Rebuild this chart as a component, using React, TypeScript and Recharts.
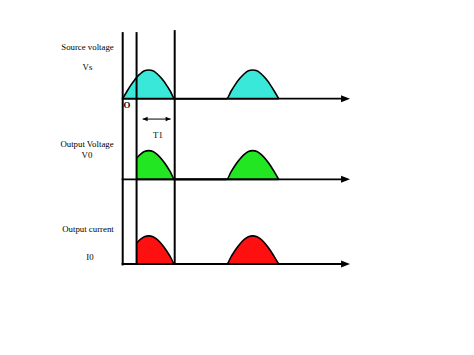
import React from 'react';
import { ComposedChart, Area, XAxis, YAxis, ReferenceLine } from 'recharts';

// phase angle (degrees) of each sample
const time = [0, 15, 30, 45, 48, 60, 75, 90, 105, 120, 135, 150, 165, 180, 360, 375, 390, 405, 420, 435, 450, 465, 480, 495, 510, 525, 540];

// normalised heights
const sourceVs = [0, 0.26, 0.5, 0.7, 0.74, 0.86, 0.97, 1, 0.97, 0.86, 0.7, 0.5, 0.26, 0, 0, 0.26, 0.5, 0.7, 0.86, 0.97, 1, 0.97, 0.86, 0.7, 0.5, 0.26, 0];
const outputV0 = [null, null, null, null, 0.74, 0.86, 0.97, 1, 0.97, 0.86, 0.7, 0.5, 0.26, 0, 0, 0.26, 0.5, 0.7, 0.86, 0.97, 1, 0.97, 0.86, 0.7, 0.5, 0.26, 0];
const outputI0 = [null, null, null, null, 0.73, 0.85, 0.95, 0.98, 0.95, 0.85, 0.69, 0.49, 0.25, 0, 0, 0.25, 0.49, 0.69, 0.85, 0.95, 0.98, 0.95, 0.85, 0.69, 0.49, 0.25, 0];

// marker angles: origin, firing angle, end of conduction
const markers = [0, 48, 180];
const axisEnd = 787;

// vertical offset of each trace
const BASE_VS = 5.76;
const BASE_V0 = 2.95;
const BASE_I0 = 0;

const toRange = (base: number, v: number | null) => (v == null ? null : [base, base + v]);

const data = time.map((t, i) => ({
  t,
  vs: toRange(BASE_VS, sourceVs[i]),
  v0: toRange(BASE_V0, outputV0[i]),
  i0: toRange(BASE_I0, outputI0[i]),
}));

const ArrowAxis = (props: any) => {
  const { x1, y1, x2, y2 } = props;
  return (
    <g>
      <line x1={x1} y1={y1} x2={x2 - 6} y2={y2} stroke="#000" strokeWidth={1.8} />
      <polygon points={`${x2},${y2} ${x2 - 9},${y2 - 3.5} ${x2 - 9},${y2 + 3.5}`} fill="#000" />
    </g>
  );
};

const DoubleArrow = (props: any) => {
  const { x1, y1, x2, y2 } = props;
  return (
    <g>
      <line x1={x1} y1={y1} x2={x2} y2={y2} stroke="#000" strokeWidth={1} />
      <polygon points={`${x1},${y1} ${x1 + 5},${y1 - 2.2} ${x1 + 5},${y1 + 2.2}`} fill="#000" />
      <polygon points={`${x2},${y2} ${x2 - 5},${y2 - 2.2} ${x2 - 5},${y2 + 2.2}`} fill="#000" />
    </g>
  );
};

const labelStyle: React.CSSProperties = {
  position: 'absolute',
  transform: 'translate(-50%, -50%)',
  fontFamily: '"Liberation Serif", "Times New Roman", serif',
  fontSize: 8.8,
  color: '#000',
  whiteSpace: 'nowrap',
  lineHeight: 1,
};

const labels = [
  { text: 'Source voltage', x: 87.5, y: 47 },
  { text: 'Vs', x: 87.5, y: 67 },
  { text: 'Output Voltage', x: 87, y: 143.5 },
  { text: 'V0', x: 87, y: 155 },
  { text: 'Output current', x: 88, y: 228.5 },
  { text: 'I0', x: 90, y: 257 },
  { text: 'O', x: 127, y: 104.5, bold: true },
  { text: 'T1', x: 158, y: 135 },
];

export default function App() {
  return (
    <div style={{ position: 'absolute', left: 0, top: 0, width: 474, height: 355, background: '#fff' }}>
      <ComposedChart
        width={474}
        height={355}
        data={data}
        margin={{ top: 5.7, right: 123.1, bottom: 62.3, left: 122.7 }}
      >
        <XAxis type="number" dataKey="t" domain={[0, 790]} allowDataOverflow hide />
        <YAxis type="number" domain={[-1, 9]} allowDataOverflow hide />

        <Area type="monotone" dataKey="vs" stroke="#000" strokeWidth={1.6} fill="#3ae8da" fillOpacity={1} isAnimationActive={false} />
        <Area type="monotone" dataKey="v0" stroke="#000" strokeWidth={1.6} fill="#22e622" fillOpacity={1} isAnimationActive={false} />
        <Area type="monotone" dataKey="i0" stroke="#000" strokeWidth={1.6} fill="#ff1010" fillOpacity={1} isAnimationActive={false} />

        {[BASE_VS, BASE_V0, BASE_I0].map((b) => (
          <ReferenceLine
            key={b}
            segment={[{ x: -3.5, y: b }, { x: axisEnd, y: b }]}
            ifOverflow="visible"
            shape={ArrowAxis}
          />
        ))}

        <ReferenceLine segment={[{ x: markers[0], y: -0.05 }, { x: markers[0], y: 8.08 }]} ifOverflow="visible" stroke="#000" strokeWidth={2} />
        <ReferenceLine segment={[{ x: markers[1], y: 0 }, { x: markers[1], y: 8.08 }]} ifOverflow="visible" stroke="#000" strokeWidth={2} />
        <ReferenceLine segment={[{ x: markers[2], y: 0 }, { x: markers[2], y: 8.15 }]} ifOverflow="visible" stroke="#000" strokeWidth={2} />

        <ReferenceLine segment={[{ x: 69, y: 5.05 }, { x: 166, y: 5.05 }]} ifOverflow="visible" shape={DoubleArrow} />
      </ComposedChart>
      {labels.map((l) => (
        <span key={l.text} style={{ ...labelStyle, left: l.x, top: l.y, fontWeight: l.bold ? 'bold' : 'normal' }}>
          {l.text}
        </span>
      ))}
    </div>
  );
}
